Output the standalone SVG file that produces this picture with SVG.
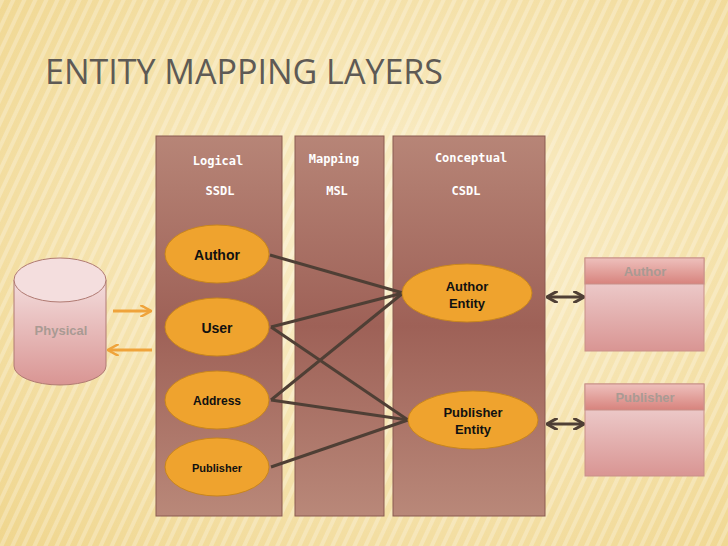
<svg xmlns="http://www.w3.org/2000/svg" width="728" height="546" viewBox="0 0 728 546">
<defs>
<radialGradient id="bg" cx="0.55" cy="0.45" r="0.8"><stop offset="0" stop-color="#fbf0cf"/><stop offset="1" stop-color="#efd58c"/></radialGradient>
<pattern id="str" width="10" height="10" patternUnits="userSpaceOnUse" patternTransform="rotate(25)"><rect width="4" height="10" fill="#ffffff" opacity="0.25"/></pattern>
<linearGradient id="col" x1="0" y1="0" x2="0" y2="1"><stop offset="0" stop-color="#b78577"/><stop offset="0.5" stop-color="#9e6157"/><stop offset="1" stop-color="#b98879"/></linearGradient>
<linearGradient id="pink" x1="0" y1="0" x2="0" y2="1"><stop offset="0" stop-color="#f3dcdc"/><stop offset="1" stop-color="#d99593"/></linearGradient>
<linearGradient id="hdr" x1="0" y1="0" x2="0" y2="1"><stop offset="0" stop-color="#eec0bc"/><stop offset="1" stop-color="#d7837d"/></linearGradient>
<marker id="oa" viewBox="0 0 10 10" refX="8" refY="5" markerWidth="4" markerHeight="4" orient="auto-start-reverse"><path d="M0,0 L9,5 L0,10" fill="none" stroke="#efa33b" stroke-width="2"/></marker>
<marker id="da" viewBox="0 0 10 10" refX="8" refY="5" markerWidth="4" markerHeight="4" orient="auto-start-reverse"><path d="M0,0 L9,5 L0,10" fill="none" stroke="#4f3f35" stroke-width="2.5"/></marker>
<style>
.col{fill:url(#col);stroke:#8a5a50;stroke-width:1}
.hd{font-family:"DejaVu Sans Mono",monospace;font-weight:bold;font-size:12px;fill:#fff;text-anchor:middle}
.el{fill:#efa32e;stroke:#c9861d;stroke-width:1}
.t{font-family:"Liberation Sans",Arial,sans-serif;font-weight:bold;fill:#111;text-anchor:middle}
.ln{stroke:#4f3f35;stroke-width:3;fill:none}
.g{font-family:"Liberation Sans",Arial,sans-serif;font-weight:bold;font-size:13px;fill:#a99a93;text-anchor:middle}
</style>
</defs>
<rect width="728" height="546" fill="url(#bg)"/>
<rect width="728" height="546" fill="url(#str)"/>
<text x="45" y="84" font-family="Open Sans,sans-serif" font-size="34" fill="#5e5a55" textLength="398" lengthAdjust="spacingAndGlyphs">ENTITY MAPPING LAYERS</text>
<g id="logical"><rect class="col" x="156" y="136" width="126" height="380"/><text class="hd" x="218" y="165">Logical</text><text class="hd" x="220" y="195">SSDL</text></g>
<g id="mapping"><rect class="col" x="295" y="136" width="89" height="380"/><text class="hd" x="334" y="163">Mapping</text><text class="hd" x="337" y="195">MSL</text></g>
<g id="conceptual"><rect class="col" x="393" y="136" width="152" height="380"/><text class="hd" x="471" y="162">Conceptual</text><text class="hd" x="466" y="195">CSDL</text></g>
<g id="physical"><path d="M14,280 V366 A46,19 0 0 0 106,366 V280" fill="url(#pink)" stroke="#b07a72"/><ellipse cx="60" cy="280" rx="46" ry="22" fill="#f4dede" stroke="#b07a72"/><text class="g" x="61" y="335">Physical</text></g>
<g id="connectors">
<line class="ln" x1="270" y1="255" x2="403" y2="293"/>
<line class="ln" x1="271" y1="327" x2="403" y2="293"/>
<line class="ln" x1="271" y1="327" x2="408" y2="420"/>
<line class="ln" x1="271" y1="400" x2="403" y2="293"/>
<line class="ln" x1="271" y1="400" x2="408" y2="420"/>
<line class="ln" x1="271" y1="467" x2="408" y2="420"/>
<line x1="113" y1="311" x2="150" y2="311" stroke="#efa33b" stroke-width="3" marker-end="url(#oa)"/>
<line x1="152" y1="350" x2="109" y2="350" stroke="#efa33b" stroke-width="3" marker-end="url(#oa)"/>
<line x1="548" y1="297" x2="583" y2="297" stroke="#4f3f35" stroke-width="3" marker-start="url(#da)" marker-end="url(#da)"/>
<line x1="548" y1="424" x2="583" y2="424" stroke="#4f3f35" stroke-width="3" marker-start="url(#da)" marker-end="url(#da)"/>
</g>
<g id="n-author"><ellipse class="el" cx="217" cy="254" rx="52" ry="29"/><text class="t" x="217" y="260" font-size="14">Author</text></g>
<g id="n-user"><ellipse class="el" cx="217" cy="327" rx="52" ry="29"/><text class="t" x="217" y="333" font-size="14">User</text></g>
<g id="n-address"><ellipse class="el" cx="217" cy="400" rx="52" ry="29"/><text class="t" x="217" y="405" font-size="12">Address</text></g>
<g id="n-publisher"><ellipse class="el" cx="217" cy="467" rx="52" ry="29"/><text class="t" x="217" y="472" font-size="11">Publisher</text></g>
<g id="n-author-entity"><ellipse class="el" cx="467" cy="293" rx="65" ry="29"/><text class="t" x="467" y="291" font-size="13">Author</text><text class="t" x="467" y="308" font-size="13">Entity</text></g>
<g id="n-publisher-entity"><ellipse class="el" cx="473" cy="420" rx="65" ry="29"/><text class="t" x="473" y="417" font-size="13">Publisher</text><text class="t" x="473" y="434" font-size="13">Entity</text></g>
<g id="t-author"><rect x="585" y="258" width="119" height="93" fill="url(#pink)" stroke="#c89088"/><rect x="585" y="258" width="119" height="26" fill="url(#hdr)" stroke="#c89088"/><text class="g" x="645" y="276">Author</text></g>
<g id="t-publisher"><rect x="585" y="384" width="119" height="92" fill="url(#pink)" stroke="#c89088"/><rect x="585" y="384" width="119" height="26" fill="url(#hdr)" stroke="#c89088"/><text class="g" x="645" y="402">Publisher</text></g>
</svg>
